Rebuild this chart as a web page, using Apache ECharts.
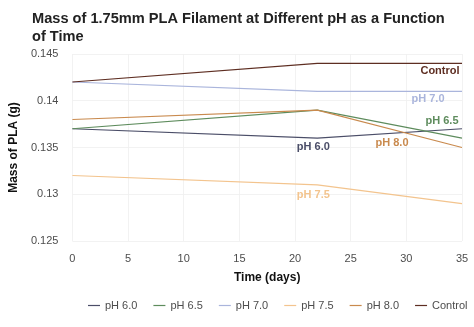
<!DOCTYPE html>
<html><head><meta charset="utf-8">
<script src="https://cdn.jsdelivr.net/npm/echarts@6/dist/echarts.min.js"></script>
<style>html,body{margin:0;padding:0;background:#fff}#c{width:474px;height:327px}</style>
</head><body><div id="c"></div>
<script>
const days = [0, 22, 35];
const seriesNames = ['pH 6.0', 'pH 6.5', 'pH 7.0', 'pH 7.5', 'pH 8.0', 'Control'];
const ph60 = [0.137, 0.136, 0.137];
const ph65 = [0.137, 0.139, 0.136];
const ph70 = [0.142, 0.141, 0.141];
const ph75 = [0.132, 0.131, 0.129];
const ph80 = [0.138, 0.139, 0.135];
const control = [0.142, 0.144, 0.144];
const xTicks = [0, 5, 10, 15, 20, 25, 30, 35];
const yTicks = [0.125, 0.13, 0.135, 0.14, 0.145];

const colors = ['#4b4e68', '#5e8c5d', '#aab5dc', '#f3c48e', '#c98a4e', '#5e2e22'];
const values = [ph60, ph65, ph70, ph75, ph80, control];
const labelSpec = [
  {i: 1, off: [-4, 9]},
  {i: 2, off: [-20, -17]},
  {i: 2, off: [-34, 8]},
  {i: 1, off: [-4, 10]},
  {i: 2, off: [-70, -5]},
  {i: 2, off: [-22, 8]}
];

const series = seriesNames.map((name, k) => ({
  name: name,
  type: 'line',
  symbol: 'circle',
  symbolSize: 0.01,
  showSymbol: true,
  lineStyle: {color: colors[k], width: 1.1},
  itemStyle: {color: colors[k]},
  emphasis: {disabled: true},
  z: k === 5 ? 3 : 2,
  data: days.map((d, j) => {
    const item = {value: [d, values[k][j]]};
    if (j === labelSpec[k].i) {
      item.label = {show: true, position: 'inside', offset: labelSpec[k].off,
        formatter: name, color: colors[k], fontWeight: 'bold', fontSize: 11,
        fontFamily: 'Liberation Sans'};
    }
    return item;
  })
}));

const chart = echarts.init(document.getElementById('c'), null, {renderer: 'canvas'});
chart.setOption({
  animation: false,
  backgroundColor: '#fff',
  textStyle: {fontFamily: 'Liberation Sans'},
  title: {
    text: 'Mass of 1.75mm PLA Filament at Different pH as a Function\nof Time',
    left: 27, top: 5,
    textStyle: {fontSize: 14.6, fontWeight: 'bold', color: '#222', lineHeight: 18, fontFamily: 'Liberation Sans'}
  },
  grid: {left: 72, right: 12, top: 54, bottom: 86},
  xAxis: {
    type: 'value', min: 0, max: 35, interval: 5,
    name: 'Time (days)', nameLocation: 'middle', nameGap: 31,
    nameTextStyle: {fontWeight: 'bold', fontSize: 12, color: '#111'},
    axisLine: {show: false}, axisTick: {show: false},
    axisLabel: {color: '#4d4d4d', fontSize: 11, margin: 12},
    splitLine: {show: true, lineStyle: {color: '#efefef', width: 0.8}}
  },
  yAxis: {
    type: 'value', min: 0.125, max: 0.145, interval: 0.005,
    name: 'Mass of PLA (g)', nameLocation: 'middle', nameGap: 52, nameRotate: 90,
    nameTextStyle: {fontWeight: 'bold', fontSize: 12, color: '#111'},
    axisLine: {show: false}, axisTick: {show: false},
    axisLabel: {color: '#4d4d4d', fontSize: 11, margin: 14,
      formatter: v => String(+v.toFixed(3))},
    splitLine: {show: true, lineStyle: {color: '#efefef', width: 0.8}}
  },
  legend: {
    bottom: 11, left: 83,
    data: seriesNames,
    icon: 'path://M0,0L20,0L20,2L0,2Z',
    itemWidth: 12, itemHeight: 1.5, itemGap: 16,
    textStyle: {color: '#4d4d4d', fontSize: 11}
  },
  series: series
});
</script></body></html>
